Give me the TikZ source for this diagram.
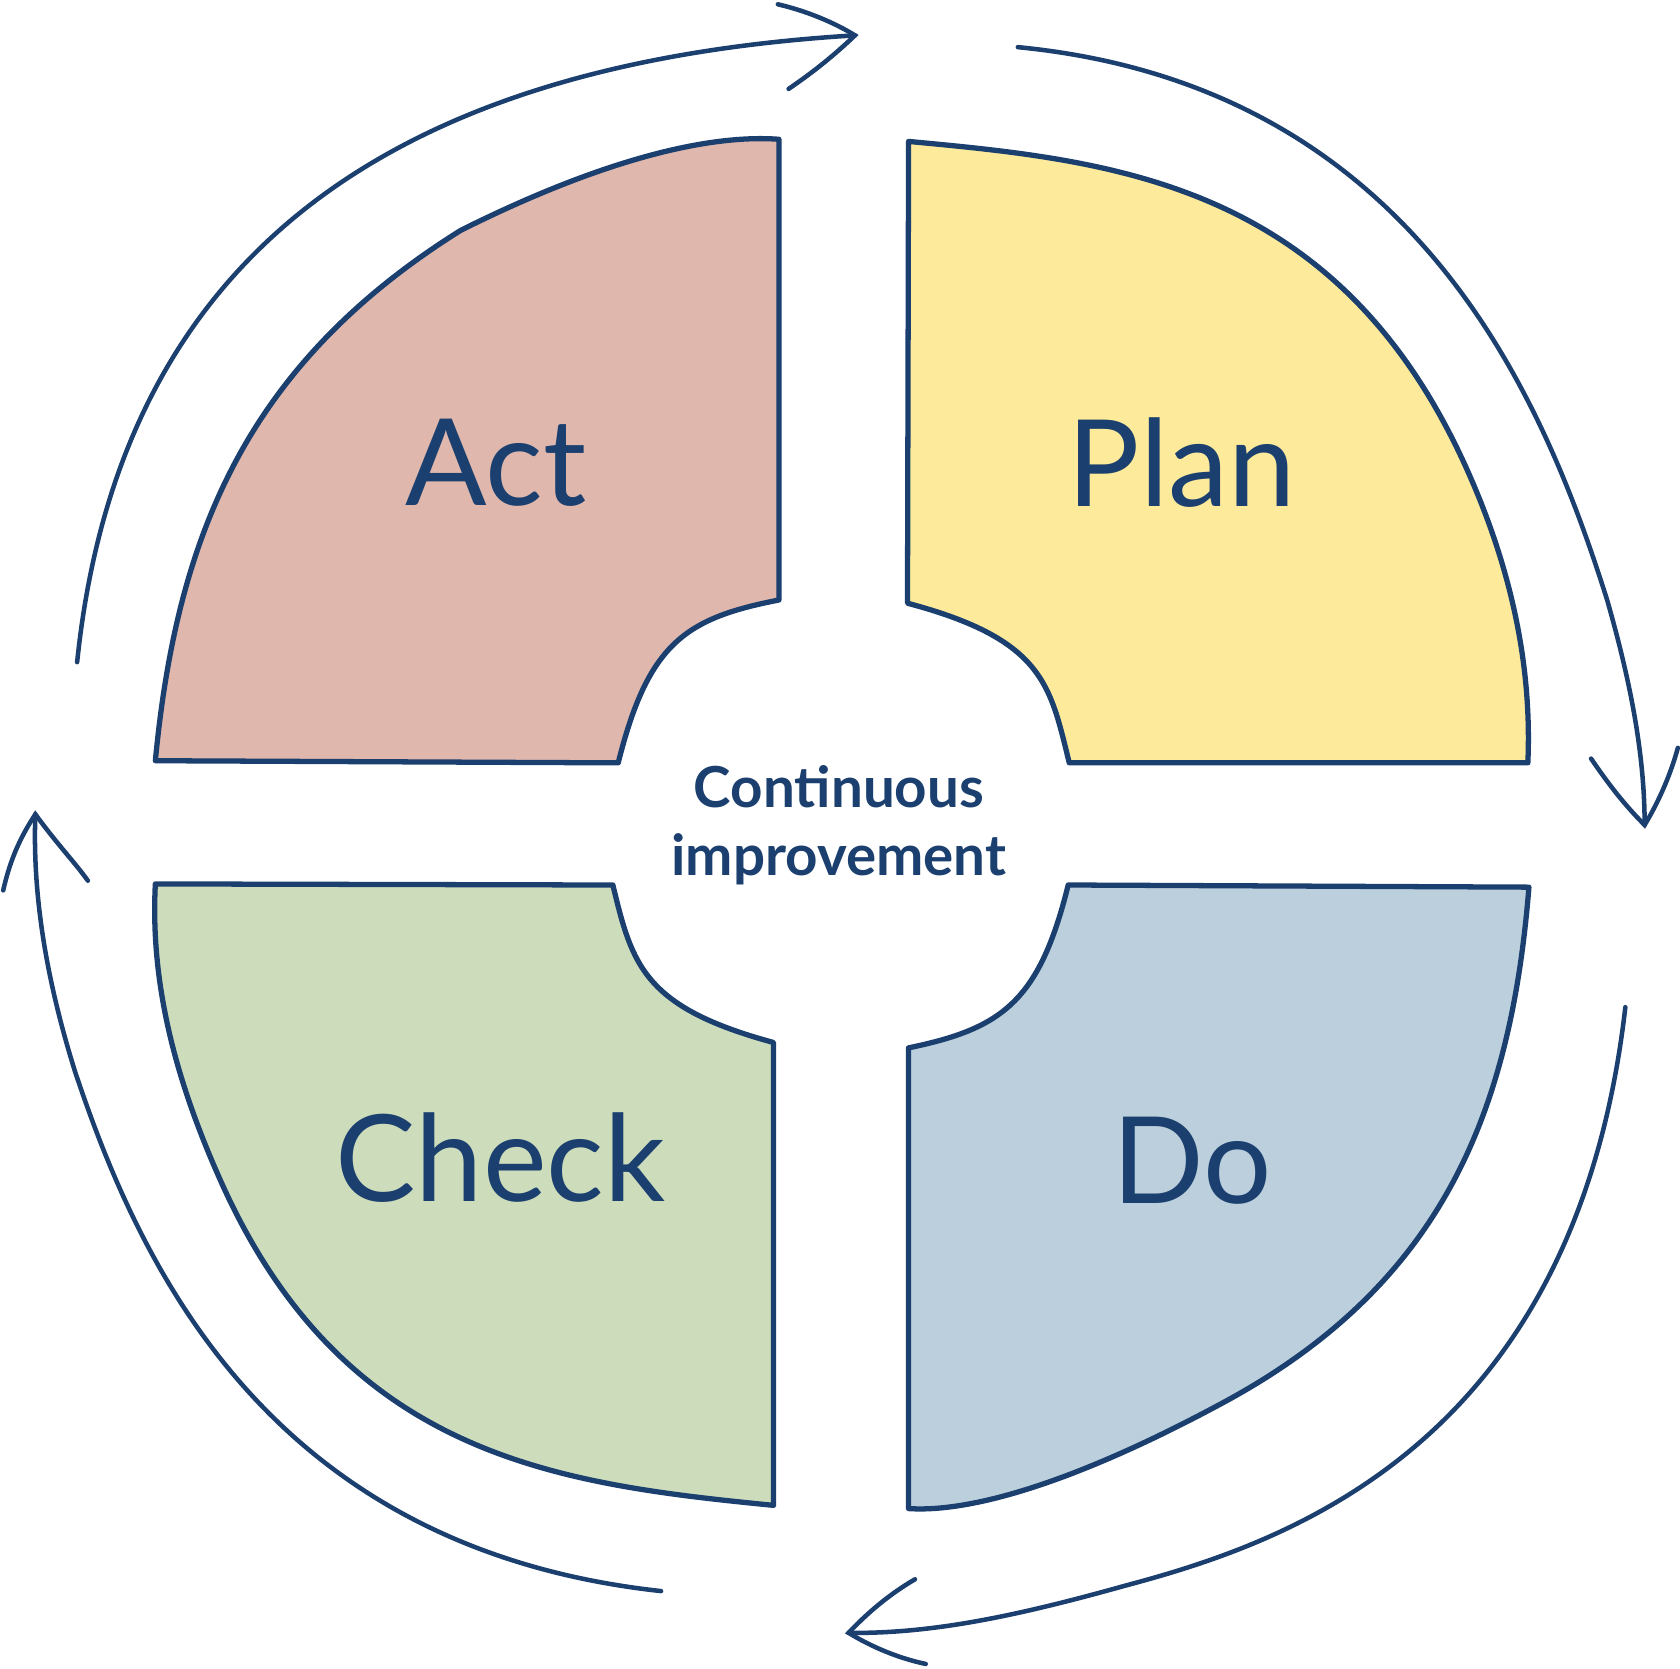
\documentclass[tikz,border=0pt]{standalone}
\usepackage{fontspec}
\setmainfont{Lato}
\definecolor{ln}{HTML}{1B3F6E}
\definecolor{cact}{HTML}{DFB7AD}
\definecolor{cplan}{HTML}{FDEB9B}
\definecolor{ccheck}{HTML}{CDDDBC}
\definecolor{cdo}{HTML}{BBD0DC}
\begin{document}
\begin{tikzpicture}[x=0.01cm,y=-0.01cm,line width=1.4pt,
  seg/.style={draw=ln,line join=round,line cap=round},
  arc/.style={draw=ln,line cap=round,line width=1.2pt},
  big/.style={text=ln,font=\fontsize{32}{36}\selectfont},
  cen/.style={text=ln,font=\fontsize{15}{18}\selectfont\bfseries,align=center}]
\useasboundingbox (0,0) rectangle (1568,1557);
% Act
\path[seg,fill=cact] (727,130) -- (727,560) .. controls (640,577) and (605,600) .. (577,712) -- (145,710)
  .. controls (165,500) and (230,340) .. (430,215) .. controls (560,150) and (660,125) .. (727,130) -- cycle;
% Plan
\path[seg,fill=cplan] (848,132) -- (847,563) .. controls (975,597) and (980,640) .. (998,712) -- (1426,712)
  .. controls (1430,620) and (1410,530) .. (1370,440) .. controls (1250,170) and (1040,150) .. (848,132) -- cycle;
% Do
\path[seg,fill=cdo] (848,1408) -- (848,978) .. controls (935,960) and (970,935) .. (997,826) -- (1427,828)
  .. controls (1410,1040) and (1345,1200) .. (1140,1310) .. controls (1010,1380) and (910,1412) .. (848,1408) -- cycle;
% Check
\path[seg,fill=ccheck] (722,1405) -- (722,973) .. controls (600,940) and (590,900) .. (572,826) -- (145,825)
  .. controls (140,920) and (165,1010) .. (205,1100) .. controls (320,1360) and (520,1385) .. (722,1405) -- cycle;
% labels
\node[big] (act) at (463,432) {Act};
\node[big] (plan) at (1103,432) {Plan};
\node[big] (check) at (467,1080) {Check};
\node[big] (do) at (1113,1083) {Do};
\node[cen] (ci) at (783,770) {Continuous\\improvement};
% arrows
\coordinate (t1) at (72,618); \coordinate (t2) at (798,33);
\draw[arc] (t1) .. controls (110,250) and (350,60) .. (t2);
\draw[arc] (726,4) .. controls (760,12) and (785,25) .. (t2) .. controls (775,55) and (755,70) .. (736,83);
\coordinate (r1) at (950,44); \coordinate (r2) at (1535,770);
\draw[arc] (r1) .. controls (1320,80) and (1440,370) .. (1500,560) .. controls (1520,630) and (1535,700) .. (r2);
\draw[arc] (1485,708) .. controls (1500,730) and (1515,750) .. (r2) .. controls (1550,745) and (1560,720) .. (1566,698);
\coordinate (b1) at (1517,940); \coordinate (b2) at (792,1524);
\draw[arc] (b1) .. controls (1470,1350) and (1200,1440) .. (1050,1480) .. controls (950,1508) and (870,1525) .. (b2);
\draw[arc] (854,1474) .. controls (830,1488) and (810,1505) .. (b2) .. controls (815,1538) and (840,1548) .. (864,1553);
\coordinate (l1) at (617,1485); \coordinate (l2) at (33,760);
\draw[arc] (l1) .. controls (250,1445) and (130,1180) .. (70,1000) .. controls (45,920) and (30,840) .. (l2);
\draw[arc] (3,831) .. controls (10,800) and (20,780) .. (l2) .. controls (55,790) and (70,805) .. (82,822);
\end{tikzpicture}
\end{document}
